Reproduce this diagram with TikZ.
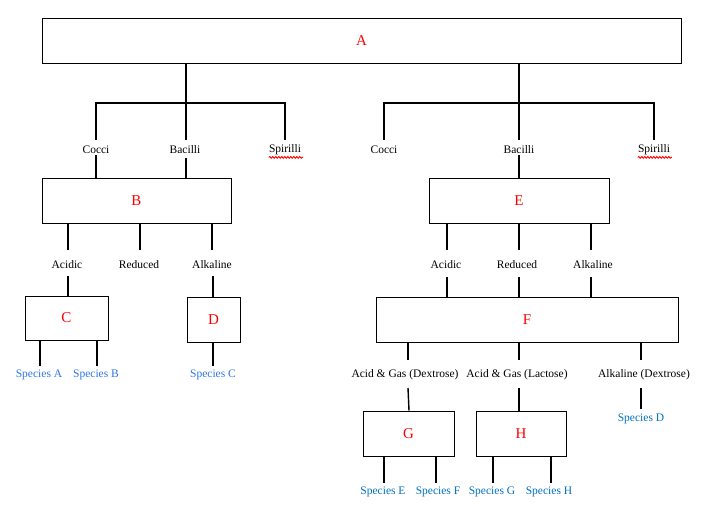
\documentclass[tikz,border=0pt]{standalone}
\usepackage{fontspec}
\setmainfont{Liberation Serif}
\usetikzlibrary{decorations.pathmorphing}
\definecolor{lred}{HTML}{FF0000}
\definecolor{blueA}{HTML}{2E75E6}
\definecolor{blueB}{HTML}{0070C0}
\begin{document}
\begin{tikzpicture}[x=1pt,y=-1pt,
 box/.style={draw,line width=0.8pt,inner sep=0,text=lred,font=\fontsize{15}{17}\selectfont},
 lab/.style={font=\fontsize{11.5}{14}\selectfont,inner sep=1pt},
 sp/.style={lab,text=blueA},
 sp2/.style={lab,text=blueB},
 ln/.style={line width=1.4pt},
 wavy/.style={lred,line width=0.9pt,decoration={snake,amplitude=0.9pt,segment length=3pt},decorate}]
\useasboundingbox (0,0) rectangle (701,508);
\node[box,minimum width=639,minimum height=45] (A) at (361.5,40.5) {A};
\node[box,minimum width=189,minimum height=45] (B) at (136.5,200.5) {B};
\node[box,minimum width=180,minimum height=45] (E) at (519,200.5) {E};
\node[box,minimum width=83,minimum height=44] (C) at (66.5,318) {C};
\node[box,minimum width=53,minimum height=45] (D) at (213.5,319.5) {D};
\node[box,minimum width=302,minimum height=45] (F) at (527,319.5) {F};
\node[box,minimum width=91,minimum height=45] (G) at (408.5,433.5) {G};
\node[box,minimum width=90,minimum height=45] (H) at (521,433.5) {H};
% level 1 labels
\node[lab] (c1) at (96,150) {Cocci};
\node[lab] (b1) at (185,150) {Bacilli};
\node[lab] (s1) at (285,150) {Spirilli};
\node[lab] (c2) at (384,150) {Cocci};
\node[lab] (b2) at (519,150) {Bacilli};
\node[lab] (s2) at (654,150) {Spirilli};
\draw[wavy] (s1.south west)++(1,1) -- ++(34,0);
\draw[wavy] (s2.south west)++(1,1) -- ++(34,0);
\coordinate (j1) at (186,103); \coordinate (j2) at (519,103);
\draw[ln] (A.south -| j1) -- (j1);
\draw[ln] (A.south -| j2) -- (j2);
\draw[ln] (96,140) -- (96,103) -- (285,103) -- (285,140);
\draw[ln] (j1) -- (186,140);
\draw[ln] (384,140) -- (384,103) -- (654,103) -- (654,140);
\draw[ln] (j2) -- (519,140);
\draw[ln] (c1.south) -- (c1.south |- B.north);
\draw[ln] (186,158) -- (186,178);
\draw[ln] (b2.south) -- (b2.south |- E.north);
% B children
\node[lab] (ac1) at (67,265) {Acidic};
\node[lab] (re1) at (139,265) {Reduced};
\node[lab] (al1) at (212,265) {Alkaline};
\draw[ln] (B.south -| 68,0) -- ++(0,27);
\draw[ln] (B.south -| 140,0) -- ++(0,27);
\draw[ln] (B.south -| 212,0) -- ++(0,27);
\draw[ln] (68,276) -- (C.north -| 68,0);
\draw[ln] (213,276) -- (D.north -| 213,0);
\node[sp] (sa) at (39,375) {Species A};
\node[sp] (sb) at (96,375) {Species B};
\node[sp] (sc) at (213,375) {Species C};
\draw[ln] (C.south -| 40,0) -- (40,366);
\draw[ln] (C.south -| 97,0) -- (97,366);
\draw[ln] (D.south -| 213,0) -- (213,366);
% E children
\node[lab] (ac2) at (446,265) {Acidic};
\node[lab] (re2) at (517,265) {Reduced};
\node[lab] (al2) at (593,265) {Alkaline};
\foreach \x in {447,519,591} {\draw[ln] (E.south -| \x,0) -- ++(0,27);
 \draw[ln] (\x,277) -- (F.north -| \x,0);}
% F children
\node[lab] (ad) at (405,375) {Acid \& Gas (Dextrose)};
\node[lab] (al) at (517,375) {Acid \& Gas (Lactose)};
\node[lab] (ak) at (644,375) {Alkaline (Dextrose)};
\draw[ln] (F.south -| 408,0) -- (408,360);
\draw[ln] (F.south -| 519,0) -- (519,360);
\draw[ln] (F.south -| 641,0) -- (641,360);
\draw[ln] (408,388) -- (G.north -| 409,0);
\draw[ln] (519,388) -- (519,411);
\node[sp2] (sd) at (641,419) {Species D};
\draw[ln] (641,388) -- (641,409);
\node[sp2] (se) at (383,492) {Species E};
\node[sp2] (sf) at (438,492) {Species F};
\node[sp2] (sg) at (492,492) {Species G};
\node[sp2] (sh) at (549,492) {Species H};
\draw[ln] (G.south -| 384,0) -- (384,483);
\draw[ln] (G.south -| 436,0) -- (436,483);
\draw[ln] (H.south -| 493,0) -- (493,483);
\draw[ln] (H.south -| 551,0) -- (551,483);
\end{tikzpicture}
\end{document}
